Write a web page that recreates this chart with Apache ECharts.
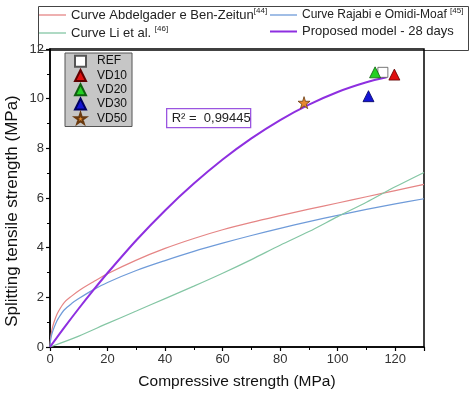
<!DOCTYPE html>
<html>
<head>
<meta charset="utf-8">
<script src="https://cdn.jsdelivr.net/npm/echarts@6/dist/echarts.min.js"></script>
<style>html,body{margin:0;padding:0;background:#fff}#c{width:474px;height:395px}</style>
</head>
<body>
<div id="c"></div>
<script>
// ---- data ----
const curveNames = ['Curve Abdelgader e Ben-Zeitun[44]', 'Curve Rajabi e Omidi-Moaf [45]', 'Curve Li et al. [46]', 'Proposed model - 28 days'];

const abdelX = [0, 0.3, 1, 2, 3, 5, 7.5, 10, 15, 20, 30, 40, 50, 60, 70, 80, 90, 100, 110, 120, 130];
const abdelY = [0, 0.45, 0.85, 1.2, 1.45, 1.8, 2.05, 2.27, 2.62, 2.95, 3.5, 3.97, 4.37, 4.72, 5.02, 5.29, 5.55, 5.8, 6.05, 6.3, 6.55];

const rajabiX = [0, 0.3, 1, 2, 3, 5, 7.5, 10, 15, 20, 30, 40, 50, 60, 70, 80, 90, 100, 110, 120, 130];
const rajabiY = [0, 0.35, 0.65, 0.95, 1.17, 1.5, 1.75, 1.95, 2.3, 2.6, 3.08, 3.48, 3.85, 4.18, 4.49, 4.78, 5.05, 5.3, 5.54, 5.76, 5.97];

const liX = [0, 10, 20, 30, 40, 50, 60, 70, 80, 90, 100, 110, 120, 130];
const liY = [0, 0.44, 0.95, 1.45, 1.95, 2.45, 2.97, 3.52, 4.1, 4.65, 5.25, 5.83, 6.45, 7.03];

const modelX = [0, 5, 10, 15, 20, 30, 40, 50, 60, 70, 80, 90, 100, 110, 117];
const modelY = [0, 0.79, 1.55, 2.28, 2.98, 4.3, 5.5, 6.58, 7.55, 8.4, 9.14, 9.76, 10.27, 10.66, 10.86];

const pointNames = ['REF', 'VD10', 'VD20', 'VD30', 'VD50'];
const pointX = [115.7, 119.7, 113.0, 110.7, 88.3];
const pointY = [11.06, 10.97, 11.06, 10.10, 9.84];

const xTicks = [0, 20, 40, 60, 80, 100, 120];
const yTicks = [0, 2, 4, 6, 8, 10, 12];
const xTitle = 'Compressive strength (MPa)';
const yTitle = 'Splitting tensile strength (MPa)';
const r2Text = 'R² =  0,99445';

// ---- build ----
const pair = (xs, ys) => xs.map((x, i) => [x, ys[i]]);
const curveColors = ['#e58585', '#6f9bd9', '#84c6a4', '#8e2fe0'];
const curveWidths = [1.2, 1.2, 1.2, 2];
const curveData = [pair(abdelX, abdelY), pair(rajabiX, rajabiY), pair(liX, liY), pair(modelX, modelY)];

const starPath = 'path://M50,0 L61,35 L98,35 L68,57 L79,91 L50,70 L21,91 L32,57 L2,35 L39,35 Z';
const ptStyle = [
  {symbol: 'rect', size: 10, color: '#ffffff', border: '#555555'},
  {symbol: 'triangle', size: 11, color: '#e01010', border: '#600000'},
  {symbol: 'triangle', size: 11, color: '#22d022', border: '#106010'},
  {symbol: 'triangle', size: 11, color: '#1414d4', border: '#000060'},
  {symbol: starPath, size: 12, color: '#e6892e', border: '#6a3a10'}
];

const series = [];
curveNames.forEach((n, i) => {
  series.push({
    name: n, type: 'line', data: curveData[i], smooth: 0.3, symbol: 'none',
    lineStyle: {color: curveColors[i], width: curveWidths[i]}, itemStyle: {color: curveColors[i]}, z: 2
  });
});
pointNames.forEach((n, i) => {
  const s = ptStyle[i];
  series.push({
    name: n, type: 'scatter', data: [[pointX[i], pointY[i]]], symbol: s.symbol, symbolSize: s.size,
    itemStyle: {color: s.color, borderColor: s.border, borderWidth: 0.8, opacity: 1}, z: 5
  });
});

const fmtLegend = name => {
  const k = name.indexOf('[');
  if (k < 0) return '{b|' + name + '}';
  return '{b|' + name.slice(0, k) + '}{s|' + name.slice(k) + '}';
};
const legendText = fs => ({
  fontFamily: 'Liberation Sans', fontSize: fs, color: '#222',
  rich: {
    b: {fontFamily: 'Liberation Sans', fontSize: fs, color: '#222', lineHeight: 16, verticalAlign: 'middle'},
    s: {fontFamily: 'Liberation Sans', fontSize: 8, color: '#222', lineHeight: 8, verticalAlign: 'top'}
  }
});
const legPos = [[39, 7], [270, 7], [39, 25], [270, 25]];
const legFont = [13, 12, 13, 13];
const legends = curveNames.map((n, i) => ({
  data: [n], left: legPos[i][0], top: legPos[i][1], padding: 0, icon: 'rect',
  itemWidth: 27, itemHeight: i === 3 ? 2 : 1.3, itemStyle: {color: curveColors[i]},
  itemGap: 0, formatter: fmtLegend, textStyle: legendText(legFont[i]), selectedMode: false
}));
legends.push({
  data: pointNames, orient: 'vertical', left: 65, top: 53, padding: [1, 5, 1, 9],
  backgroundColor: '#c6c6c6', borderColor: '#555', borderWidth: 1,
  itemWidth: 11, itemHeight: 11, itemGap: 0, selectedMode: false,
  textStyle: {fontFamily: 'Liberation Sans', fontSize: 12, color: '#111', lineHeight: 14.3, padding: [0, 0, 0, 6]}
});

const option = {
  animation: false,
  backgroundColor: '#fff',
  grid: {left: 50, right: 50, top: 49, bottom: 44, show: true, borderColor: '#000', borderWidth: 1.5, backgroundColor: 'transparent'},
  legend: legends,
  xAxis: {
    type: 'value', min: 0, max: 130, interval: 20,
    name: xTitle, nameLocation: 'middle', nameGap: 27,
    nameTextStyle: {fontFamily: 'Liberation Sans', fontSize: 15.5, color: '#111'},
    axisLine: {show: true, lineStyle: {color: '#000', width: 1.5}},
    axisTick: {show: true, length: 4, lineStyle: {color: '#000', width: 1.2}},
    minorTick: {show: true, splitNumber: 2, length: 3, lineStyle: {color: '#000', width: 1}},
    splitLine: {show: false},
    axisLabel: {fontFamily: 'Liberation Sans', fontSize: 13, color: '#333', margin: 6,
      formatter: v => xTicks.includes(v) ? String(v) : ''}
  },
  yAxis: {
    type: 'value', min: 0, max: 12, interval: 2,
    axisLine: {show: true, lineStyle: {color: '#000', width: 1.5}},
    axisTick: {show: true, length: 4, lineStyle: {color: '#000', width: 1.2}},
    minorTick: {show: true, splitNumber: 2, length: 3, lineStyle: {color: '#000', width: 1}},
    splitLine: {show: false},
    axisLabel: {fontFamily: 'Liberation Sans', fontSize: 13, color: '#333', margin: 6,
      formatter: v => yTicks.includes(v) ? String(v) : ''}
  },
  graphic: [
    {type: 'rect', left: 36, top: 4, shape: {width: 430, height: 44}, style: {fill: 'none', stroke: '#444', lineWidth: 1}, z: -1, silent: true},
    {type: 'text', x: 12, y: 211, rotation: Math.PI / 2,
      style: {text: yTitle, fontFamily: 'Liberation Sans', fontSize: 17, fill: '#111', align: 'center', verticalAlign: 'middle'}},
    {type: 'group', left: 166, top: 108, children: [
      {type: 'rect', shape: {x: 0, y: 0, width: 84, height: 19}, style: {fill: '#fff', stroke: '#9a55e0', lineWidth: 1.3}},
      {type: 'text', x: 5, y: 10, style: {text: r2Text, fontFamily: 'Liberation Sans', fontSize: 13, fill: '#222', verticalAlign: 'middle'}}
    ], z: 10}
  ],
  series: series
};
echarts.init(document.getElementById('c')).setOption(option);
</script>
</body>
</html>
